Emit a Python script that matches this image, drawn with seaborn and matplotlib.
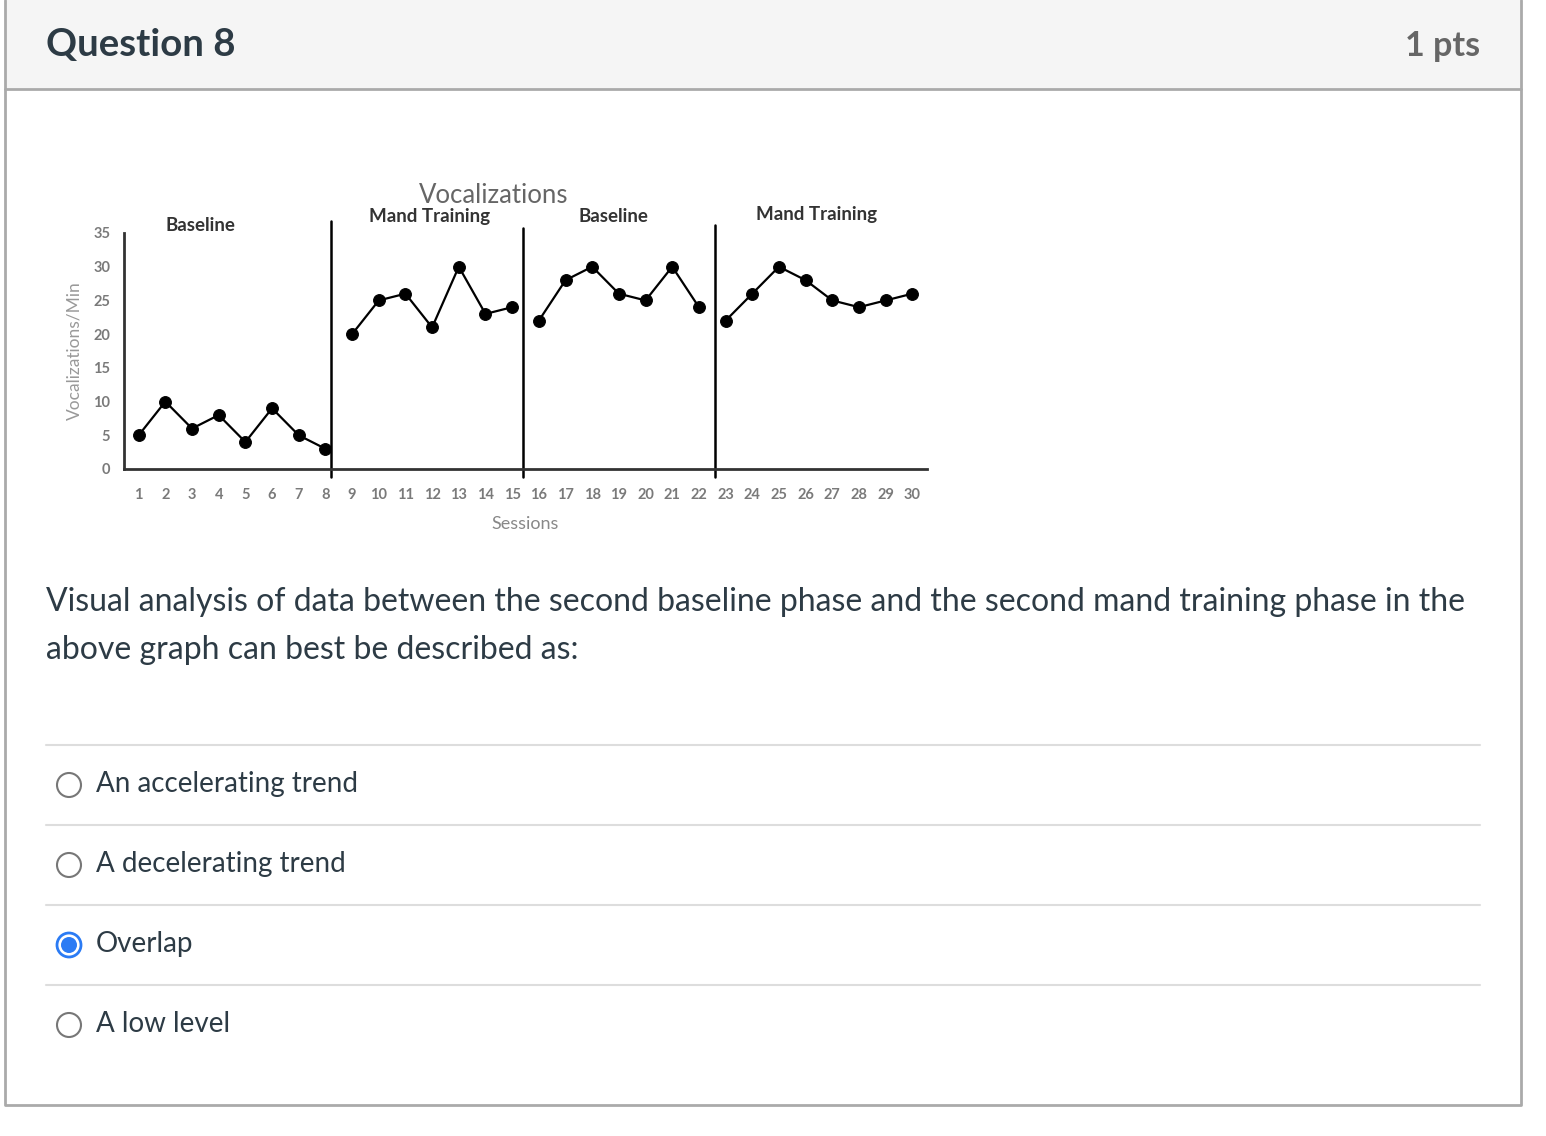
import numpy as np
import pandas as pd
import matplotlib
matplotlib.use("Agg")
import matplotlib.pyplot as plt
from matplotlib.patches import Rectangle, Circle
import seaborn as sns

sns.set_style("white")
plt.rcParams["font.family"] = ["Lato", "DejaVu Sans"]

# data
sessions = list(range(1, 31))
phases = ["Baseline 1"] * 8 + ["Mand Training 1"] * 7 + ["Baseline 2"] * 7 + ["Mand Training 2"] * 8
rates = [5, 10, 6, 8, 4, 9, 5, 3,
         20, 25, 26, 21, 30, 23, 24,
         22, 28, 30, 26, 25, 30, 24,
         22, 26, 30, 28, 25, 24, 25, 26]
phase_labels = ["Baseline", "Mand Training", "Baseline", "Mand Training"]
phase_label_x = [3.3, 11.9, 18.8, 26.4]
phase_lines = [8.2, 15.4, 22.6]
options = ["An accelerating trend", "A decelerating trend", "Overlap", "A low level"]
selected = "Overlap"

df = pd.DataFrame({"Session": sessions, "Rate": rates, "Phase": phases})

W, H = 1546, 1136
fig = plt.figure(figsize=(W / 100, H / 100), dpi=100)

# page layer in pixel coordinates
bg = fig.add_axes([0, 0, 1, 1])
bg.set_xlim(0, W)
bg.set_ylim(H, 0)
bg.axis("off")

text_col = "#2d3b45"
bg.add_patch(Rectangle((5, 0), 1516, 89, facecolor="#f5f5f5", edgecolor="none"))
bg.plot([5, 1521], [89, 89], color="#aaaaaa", lw=2)
bg.plot([5, 5, 1521, 1521], [0, 1105, 1105, 0], color="#aaaaaa", lw=2)
bg.text(46, 45, "Question 8", fontsize=27.6, fontweight="bold", color=text_col, va="center")
bg.text(1480, 46, "1 pts", fontsize=24.5, fontweight="bold", color="#666666", va="center", ha="right")

bg.text(46, 602, "Visual analysis of data between the second baseline phase and the second mand training phase in the",
        fontsize=23, color=text_col, va="center")
bg.text(46, 650, "above graph can best be described as:", fontsize=23, color=text_col, va="center")

for i, opt in enumerate(options):
    y_sep = 745 + i * 80
    bg.plot([46, 1480], [y_sep, y_sep], color="#dddddd", lw=1.5)
    cy = y_sep + 40
    if opt == selected:
        bg.add_patch(Circle((69, cy), 12, facecolor="white", edgecolor="#2b7bf4", lw=2))
        bg.add_patch(Circle((69, cy), 8, facecolor="#2b7bf4", edgecolor="none"))
    else:
        bg.add_patch(Circle((69, cy), 12, facecolor="white", edgecolor="#777777", lw=1.5))
    bg.text(96, cy - 1, opt, fontsize=20, color=text_col, va="center")

# chart
left, right, top, bottom = 124, 927, 233, 469
ax = fig.add_axes([left / W, 1 - bottom / H, (right - left) / W, (bottom - top) / H])
sns.lineplot(data=df, x="Session", y="Rate", units="Phase", estimator=None,
             color="black", marker="o", markersize=8.5, markeredgecolor="black",
             linewidth=1.6, ax=ax, legend=False)

ax.set_xlim(0.45, 30.55)
ax.set_ylim(0, 35)
ax.set_xticks(sessions)
ax.set_xticks(np.arange(0.5, 31, 1), minor=True)
ax.set_yticks(range(0, 36, 5))
ax.tick_params(axis="x", which="major", length=0, labelsize=10.5, labelcolor="#7a7a7a", pad=14)
ax.tick_params(axis="x", which="minor", length=4, width=1.5, color="#333333", direction="out")
ax.tick_params(axis="y", length=4, width=1.2, color="#333333", labelsize=10.5, labelcolor="#7a7a7a", pad=6)
for lbl in ax.get_xticklabels() + ax.get_yticklabels():
    lbl.set_fontweight("bold")
for s in ["top", "right"]:
    ax.spines[s].set_visible(False)
for s in ["left", "bottom"]:
    ax.spines[s].set_color("#333333")
    ax.spines[s].set_linewidth(2)
ax.set_xlabel("Sessions", fontsize=13, color="#888888", labelpad=10)
ax.set_ylabel("Vocalizations/Min", fontsize=12.5, color="#999999", labelpad=8)

for xv, top_y in zip(phase_lines, [36.8, 35.8, 36.2]):
    ax.plot([xv, xv], [-1.2, top_y], color="black", lw=1.8, clip_on=False)

for lab, xv, yv in zip(phase_labels, phase_label_x, [36.1, 37.4, 37.4, 37.7]):
    ax.text(xv, yv, lab, fontsize=13.5, color="#333333", ha="center", va="center", fontweight="bold")
ax.text(14.3, 40.6, "Vocalizations", fontsize=18.5, color="#666666", ha="center", va="center")

fig.savefig("out.png", dpi=100)
